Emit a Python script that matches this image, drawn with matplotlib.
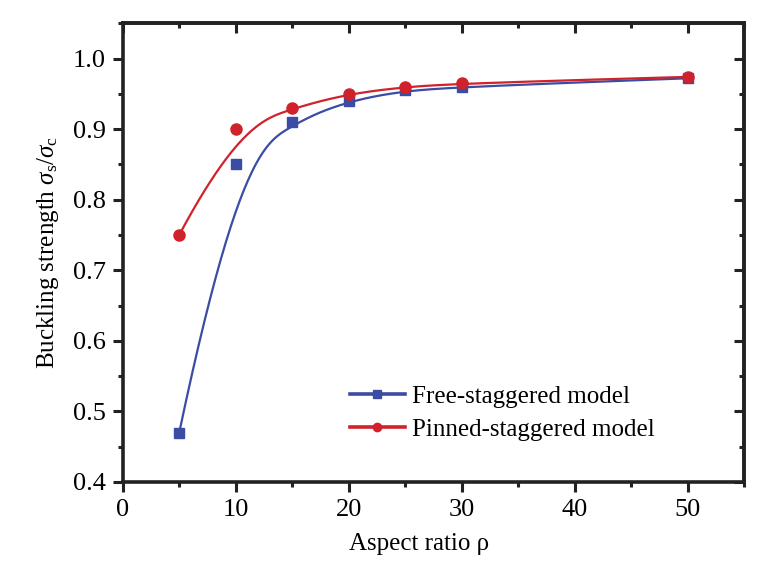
import numpy as np
import matplotlib.pyplot as plt
from matplotlib.lines import Line2D
from matplotlib.ticker import MultipleLocator

plt.rcParams['font.family'] = 'Liberation Serif'
plt.rcParams['mathtext.fontset'] = 'custom'
plt.rcParams['mathtext.rm'] = 'Liberation Serif'
plt.rcParams['mathtext.it'] = 'Liberation Serif:italic'

aspect = [5, 10, 15, 20, 25, 30, 50]
free_vals = [0.47, 0.85, 0.91, 0.94, 0.955, 0.96, 0.972]
pinned_vals = [0.75, 0.90, 0.93, 0.95, 0.96, 0.965, 0.974]

blue = '#3b4ca4'
red = '#d0222a'
dark = '#222222'


def bspline(px, py, k=3, n=300):
    # clamped B-spline using the data points as control points (like Origin)
    px = np.asarray(px, float)
    py = np.asarray(py, float)
    m = len(px)
    inner = np.linspace(0, 1, m - k + 1)
    t = np.concatenate([np.zeros(k), inner, np.ones(k)])
    u = np.linspace(0, 1, n)
    u[-1] = 1 - 1e-12

    def basis(i, d, x):
        if d == 0:
            return np.where((t[i] <= x) & (x < t[i + 1]), 1.0, 0.0)
        a = 0.0
        b = 0.0
        if t[i + d] != t[i]:
            a = (x - t[i]) / (t[i + d] - t[i]) * basis(i, d - 1, x)
        if t[i + d + 1] != t[i + 1]:
            b = (t[i + d + 1] - x) / (t[i + d + 1] - t[i + 1]) * basis(i + 1, d - 1, x)
        return a + b

    B = np.array([basis(i, k, u) for i in range(m)])
    return B.T @ px, B.T @ py


fig = plt.figure(figsize=(7.72, 5.67), dpi=100)
ax = fig.add_axes([0.159, 0.150, 0.805, 0.809])

for yv, c, mk, ms in [(free_vals, blue, 's', 7), (pinned_vals, red, 'o', 8)]:
    sx, sy = bspline(aspect, yv)
    ax.plot(sx, sy, color=c, lw=1.6, zorder=2)
    ax.plot(aspect, yv, ls='none', marker=mk, ms=ms, color=c, zorder=3)

ax.set_xlim(0, 55)
ax.set_ylim(0.4, 1.05)
ax.xaxis.set_major_locator(MultipleLocator(10))
ax.xaxis.set_minor_locator(MultipleLocator(5))
ax.yaxis.set_major_locator(MultipleLocator(0.1))
ax.yaxis.set_minor_locator(MultipleLocator(0.05))
ax.yaxis.set_major_formatter(plt.FormatStrFormatter('%.1f'))

for s in ax.spines.values():
    s.set_linewidth(2.6)
    s.set_color(dark)
ax.tick_params(which='both', direction='out', width=2.2, color=dark)
ax.tick_params(which='major', length=7, labelsize=19, pad=5)
ax.tick_params(which='minor', length=3.5)

# mirrored ticks on top and right point inwards
top = ax.secondary_xaxis('top')
top.xaxis.set_major_locator(MultipleLocator(10))
top.xaxis.set_minor_locator(MultipleLocator(5))
right = ax.secondary_yaxis('right')
right.yaxis.set_major_locator(MultipleLocator(0.1))
right.yaxis.set_minor_locator(MultipleLocator(0.05))
for sec in (top, right):
    sec.tick_params(which='both', direction='in', width=2.2, color=dark,
                    labeltop=False, labelright=False)
    sec.tick_params(which='major', length=7)
    sec.tick_params(which='minor', length=3.5)
    for s in sec.spines.values():
        s.set_linewidth(2.6)
        s.set_color(dark)

ax.set_xlabel('Aspect ratio ρ', fontsize=18, labelpad=9)
ax.xaxis.label.set_x(0.477)
ax.set_ylabel(r'Buckling strength $\sigma_{\mathrm{s}}/\sigma_{\mathrm{c}}$', fontsize=18, labelpad=9)

handles = [Line2D([], [], color=blue, lw=2.6, marker='s', ms=5.5),
           Line2D([], [], color=red, lw=2.6, marker='o', ms=6)]
ax.legend(handles, ['Free-staggered model', 'Pinned-staggered model'],
          loc='upper left', bbox_to_anchor=(0.365, 0.21), frameon=False,
          fontsize=18, handlelength=2.2, handletextpad=0.3, labelspacing=0.42,
          borderaxespad=0, borderpad=0)

fig.savefig('out.png', dpi=100)
